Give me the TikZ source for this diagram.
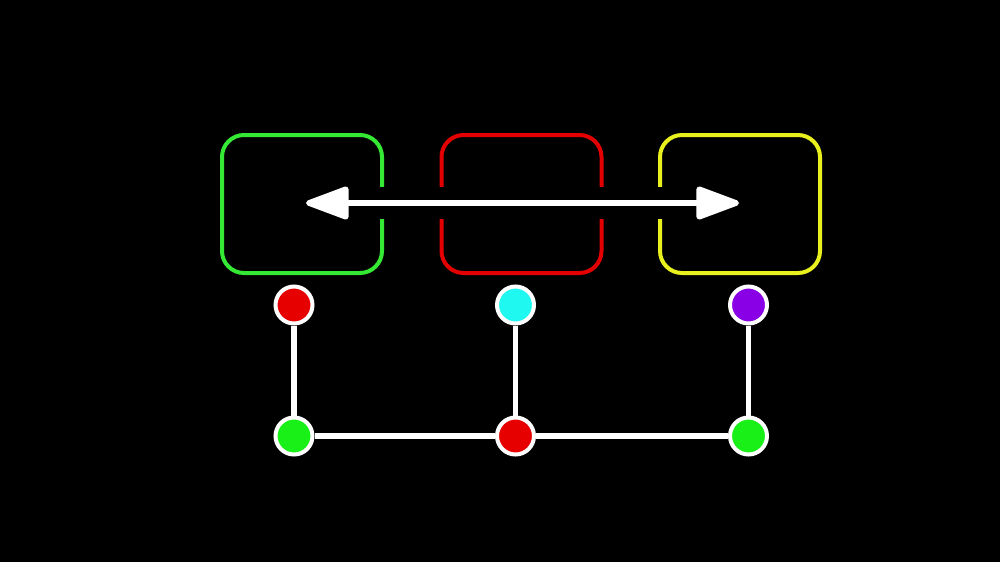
\documentclass[tikz,border=0pt]{standalone}
\usetikzlibrary{arrows.meta}
\definecolor{boxgreen}{RGB}{52,232,52}
\definecolor{boxred}{RGB}{228,0,0}
\definecolor{boxyellow}{RGB}{232,240,30}
\definecolor{dotred}{RGB}{230,0,0}
\definecolor{dotcyan}{RGB}{30,248,240}
\definecolor{dotpurple}{RGB}{138,0,230}
\definecolor{dotgreen}{RGB}{24,240,24}
\begin{document}
\begin{tikzpicture}[x=1pt,y=-1pt,
  panel/.style={draw, line width=4pt, rounded corners=22pt, minimum width=160pt, minimum height=138pt, inner sep=0pt},
  dot/.style={circle, draw=white, line width=4pt, minimum size=37pt, inner sep=0pt},
  link/.style={white, line width=5.5pt}]
\fill[black] (0,0) rectangle (1000,562);
\useasboundingbox (0,0) rectangle (1000,562);
\node[panel, draw=boxgreen] (g) at (302,204) {};
\node[panel, draw=boxred] (r) at (521.5,204) {};
\node[panel, draw=boxyellow] (y) at (740,204) {};
\coordinate (la) at (306,203);
\coordinate (ra) at (739,203);
\draw[black, line width=32pt] (370,203) -- (672,203);
\draw[white, line width=5.5pt, {Triangle[length=48pt,width=34pt,round]}-{Triangle[length=48pt,width=34pt,round]}] (la) -- (ra);
\node[dot, fill=dotred] (t1) at (294,305) {};
\node[dot, fill=dotcyan] (t2) at (515.5,305) {};
\node[dot, fill=dotpurple] (t3) at (748.5,305) {};
\node[dot, fill=dotgreen] (b1) at (294,436) {};
\node[dot, fill=dotred] (b2) at (515.5,436) {};
\node[dot, fill=dotgreen] (b3) at (748.5,436) {};
\draw[link] (t1) -- (b1);
\draw[link] (t2) -- (b2);
\draw[link] (t3) -- (b3);
\draw[link] (b1) -- (b2);
\draw[link] (b2) -- (b3);
\end{tikzpicture}
\end{document}
